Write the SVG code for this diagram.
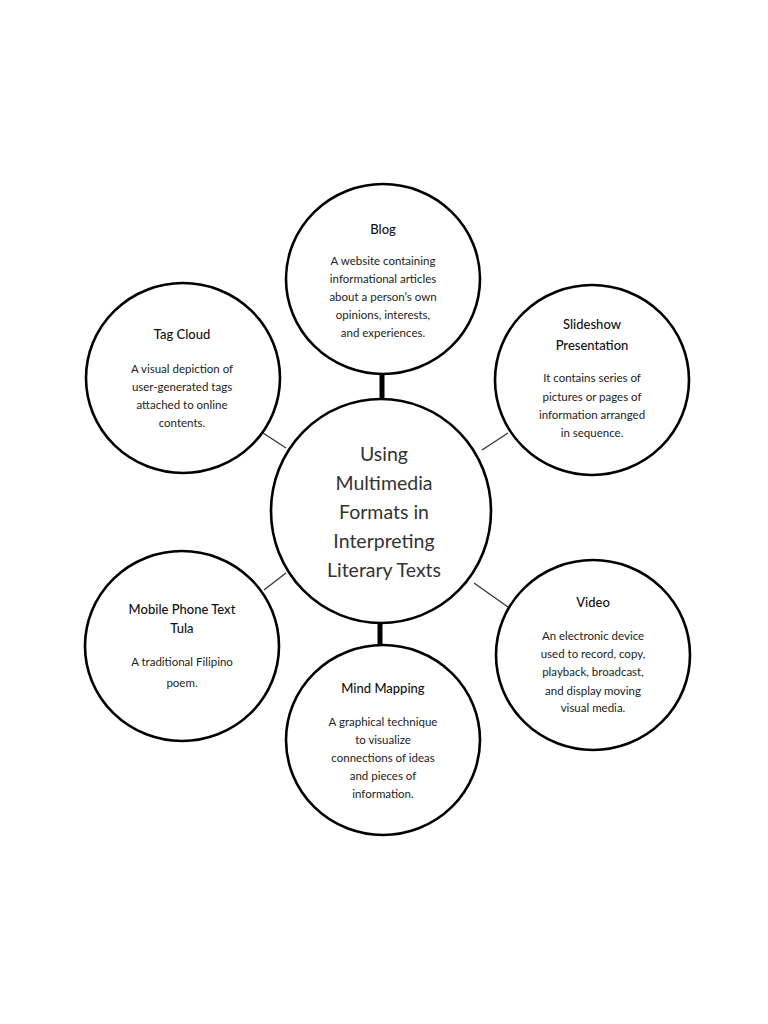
<svg xmlns="http://www.w3.org/2000/svg" width="768" height="1024" viewBox="0 0 768 1024">
<style>
.node{fill:#fff;stroke:#000;stroke-width:2.6}
.thin{stroke:#333;stroke-width:1.3;fill:none}
.thick{stroke:#000;stroke-width:5;fill:none}
text{font-family:Lato,"Open Sans","Liberation Sans",sans-serif;fill:#222;text-anchor:middle}
.t{font-size:13px;font-weight:500;fill:#111}
.b{font-size:11.5px}
.c{font-size:19.5px;fill:#333}
</style>
<rect width="768" height="1024" fill="#fff"/>
<g id="connectors">
<line class="thick" x1="382" y1="372" x2="382" y2="402"/>
<line class="thick" x1="380" y1="620" x2="380" y2="648"/>
<line class="thin" x1="263" y1="433" x2="286" y2="448"/>
<line class="thin" x1="482" y1="450" x2="508" y2="433"/>
<line class="thin" x1="264" y1="590" x2="286" y2="573"/>
<line class="thin" x1="474" y1="583" x2="508" y2="607"/>
</g>
<g id="center">
<ellipse class="node" cx="381" cy="511" rx="110" ry="112"/>
<text class="c" x="384" y="461">Using</text>
<text class="c" x="384" y="490">Multimedia</text>
<text class="c" x="384" y="519">Formats in</text>
<text class="c" x="384" y="548">Interpreting</text>
<text class="c" x="384" y="577">Literary Texts</text>
</g>
<g id="blog">
<ellipse class="node" cx="383" cy="279" rx="97" ry="95"/>
<text class="t" x="383" y="234">Blog</text>
<text class="b" x="383" y="265">A website containing</text>
<text class="b" x="383" y="283">informational articles</text>
<text class="b" x="383" y="301">about a person’s own</text>
<text class="b" x="383" y="319">opinions, interests,</text>
<text class="b" x="383" y="337">and experiences.</text>
</g>
<g id="tagcloud">
<ellipse class="node" cx="183" cy="378" rx="97" ry="95"/>
<text class="t" x="182" y="339">Tag Cloud</text>
<text class="b" x="182" y="373">A visual depiction of</text>
<text class="b" x="182" y="391">user-generated tags</text>
<text class="b" x="182" y="409">attached to online</text>
<text class="b" x="182" y="427">contents.</text>
</g>
<g id="slideshow">
<ellipse class="node" cx="592" cy="380" rx="97" ry="95"/>
<text class="t" x="592" y="329">Slideshow</text>
<text class="t" x="592" y="350">Presentation</text>
<text class="b" x="592" y="382">It contains series of</text>
<text class="b" x="592" y="401">pictures or pages of</text>
<text class="b" x="592" y="419">information arranged</text>
<text class="b" x="592" y="437">in sequence.</text>
</g>
<g id="mobile">
<ellipse class="node" cx="182" cy="646" rx="97" ry="95"/>
<text class="t" x="182" y="614">Mobile Phone Text</text>
<text class="t" x="182" y="633">Tula</text>
<text class="b" x="182" y="666">A traditional Filipino</text>
<text class="b" x="182" y="687">poem.</text>
</g>
<g id="video">
<ellipse class="node" cx="593" cy="655" rx="97" ry="95"/>
<text class="t" x="593" y="607">Video</text>
<text class="b" x="593" y="640">An electronic device</text>
<text class="b" x="593" y="658">used to record, copy,</text>
<text class="b" x="593" y="676">playback, broadcast,</text>
<text class="b" x="593" y="695">and display moving</text>
<text class="b" x="593" y="712">visual media.</text>
</g>
<g id="mindmapping">
<ellipse class="node" cx="383" cy="740" rx="97" ry="95"/>
<text class="t" x="383" y="693">Mind Mapping</text>
<text class="b" x="383" y="726">A graphical technique</text>
<text class="b" x="383" y="744">to visualize</text>
<text class="b" x="383" y="762">connections of ideas</text>
<text class="b" x="383" y="780">and pieces of</text>
<text class="b" x="383" y="798">information.</text>
</g>
</svg>
